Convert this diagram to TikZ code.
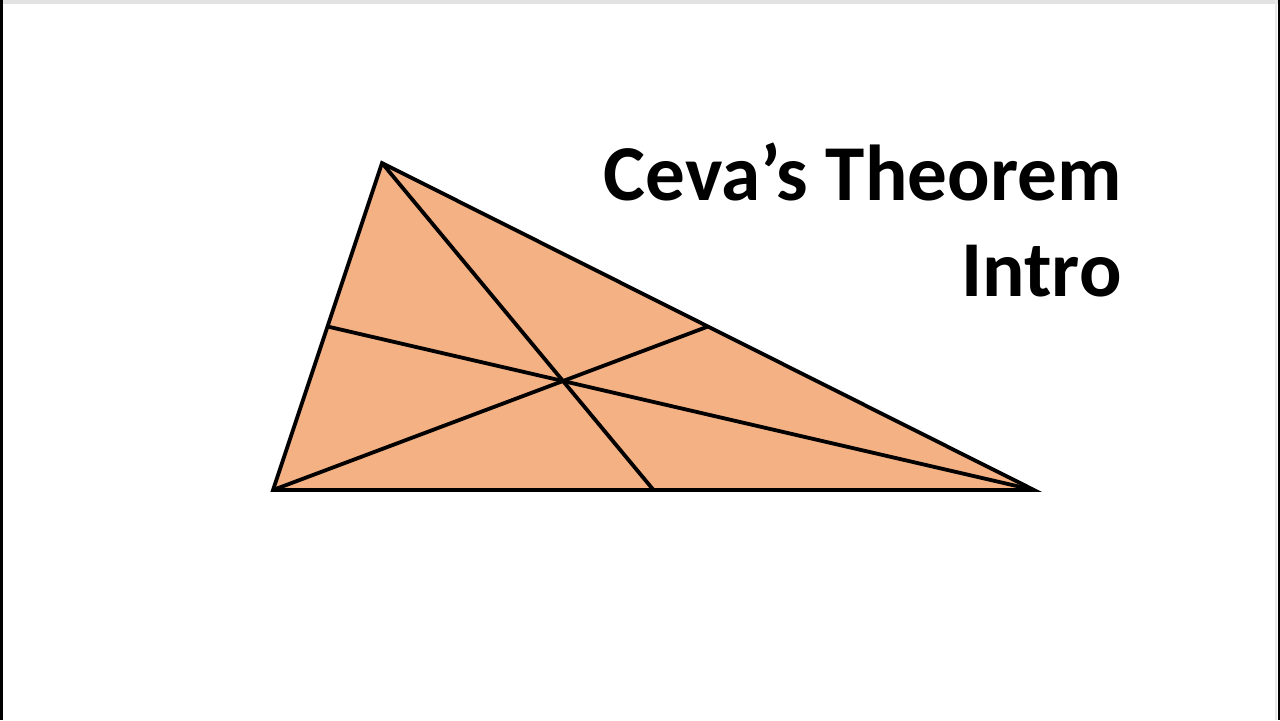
\documentclass[tikz,border=0pt]{standalone}
\usepackage{fontspec}
\usetikzlibrary{calc}
\setmainfont{Carlito}
\definecolor{fillor}{HTML}{F4B183}
\definecolor{topgray}{HTML}{E2E2E2}
\begin{document}
\begin{tikzpicture}[x=0.5pt,y=-0.5pt,
  edge/.style={line width=1.9pt,line join=miter,miter limit=12},
  title/.style={font=\fontsize{39.6}{47}\selectfont\bfseries,inner sep=0pt,anchor=base east}]
\useasboundingbox (0,0) rectangle (1280,720);
\fill[white] (0,0) rectangle (1280,720);
% frame strips
\fill[topgray] (0,0) rectangle (1280,3.5);
\fill[black] (0,0) rectangle (2.5,720);
\fill[black] (1277.5,0) rectangle (1280,720);
\fill[topgray!80!black!30] (1274.5,0) rectangle (1276.5,720);
% triangle
\coordinate (A) at (382,163);
\coordinate (B) at (273,490);
\coordinate (C) at (1034,490);
\coordinate (D) at ($(B)!0.5!(C)$);
\coordinate (E) at ($(C)!0.5!(A)$);
\coordinate (F) at ($(A)!0.5!(B)$);
\fill[fillor] (A) -- (B) -- (C) -- cycle;
\draw[edge] (A) -- (D);
\draw[edge] (B) -- (E);
\draw[edge] (C) -- (F);
\draw[edge] (A) -- (B) -- (C) -- cycle;
\node[title] (t1) at (1122,200) {Ceva’s Theorem};
\node[title] (t2) at (1122,296) {Intro};
\end{tikzpicture}
\end{document}
